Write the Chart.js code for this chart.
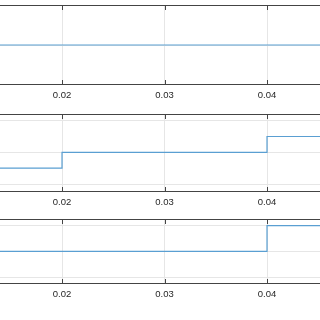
<!DOCTYPE html>
<html>
<head>
<meta charset="utf-8">
<script src="https://cdn.jsdelivr.net/npm/chart.js@4.4.0/dist/chart.umd.min.js"></script>
<style>
  html, body { margin: 0; padding: 0; background: #fff; }
  body { width: 320px; height: 320px; position: relative; overflow: hidden; }
  .panel { position: absolute; left: 0; width: 320px; }
</style>
</head>
<body>
<div class="panel" id="p1" style="top:5px;height:100px"><canvas id="c1"></canvas></div>
<div class="panel" id="p2" style="top:114px;height:98px"><canvas id="c2"></canvas></div>
<div class="panel" id="p3" style="top:219px;height:85px"><canvas id="c3"></canvas></div>
<script>
// tiempos de los cambios (s) y niveles de cada señal
const xTicks = [0.02, 0.03, 0.04];
const xMin = 0.01395;
const xMax = 0.04517;

const tiempos1 = [0.01, 0.05];
const valores1 = [1, 1];
const yTicks1 = [1];

const tiempos2 = [0.01, 0.02, 0.04, 0.05];
const valores2 = [1.5, 2, 2.5, 2.5];
const yTicks2 = [1, 2, 3];

const tiempos3 = [0.01, 0.04, 0.05];
const valores3 = [1, 2, 2];
const yTicks3 = [0, 1, 2];

const colorLinea = "#5a9fd2";
const colorGrid = "#e6e6e6";
const colorEje = "#444444";

// marco tipo matlab con marcas hacia dentro
const marco = {
  id: "marco",
  afterDatasetsDraw(chart) {
    const { ctx, chartArea: a, scales } = chart;
    ctx.save();
    ctx.strokeStyle = colorEje;
    ctx.lineWidth = 1;
    ctx.beginPath();
    ctx.moveTo(a.left, a.top + 0.5);
    ctx.lineTo(a.right, a.top + 0.5);
    ctx.moveTo(a.left, a.bottom - 0.5);
    ctx.lineTo(a.right, a.bottom - 0.5);
    scales.x.ticks.forEach((t) => {
      const px = Math.round(scales.x.getPixelForValue(t.value)) + 0.5;
      ctx.moveTo(px, a.top);
      ctx.lineTo(px, a.top + 5);
      ctx.moveTo(px, a.bottom);
      ctx.lineTo(px, a.bottom - 5);
    });
    ctx.stroke();
    ctx.restore();
  },
};

function crearPanel(id, tiempos, valores, yTicks, yMin, yMax) {
  const puntos = tiempos.map((t, i) => ({ x: t, y: valores[i] }));
  return new Chart(document.getElementById(id), {
    type: "line",
    data: {
      datasets: [
        {
          data: puntos,
          stepped: "before",
          borderColor: colorLinea,
          borderWidth: 1.2,
          pointRadius: 0,
          fill: false,
        },
      ],
    },
    options: {
      responsive: true,
      maintainAspectRatio: false,
      animation: false,
      layout: { padding: 0 },
      plugins: { legend: { display: false }, tooltip: { enabled: false } },
      scales: {
        x: {
          type: "linear",
          min: xMin,
          max: xMax,
          afterBuildTicks: (s) => {
            s.ticks = xTicks.map((v) => ({ value: v }));
          },
          afterFit: (s) => {
            s.height = 20;
          },
          grid: { color: colorGrid, drawTicks: false },
          border: { display: false },
          ticks: {
            padding: 5,
            color: "#262626",
            font: { family: "Liberation Sans, Arial, sans-serif", size: 9.5 },
            callback: (v) => v.toFixed(2),
          },
        },
        y: {
          min: yMin,
          max: yMax,
          afterBuildTicks: (s) => {
            s.ticks = yTicks.map((v) => ({ value: v }));
          },
          afterFit: (s) => {
            s.width = 0;
          },
          grid: { color: colorGrid, drawTicks: false },
          border: { display: false },
          ticks: { display: false },
        },
      },
    },
    plugins: [marco],
  });
}

crearPanel("c1", tiempos1, valores1, yTicks1, 0.5, 1.5);
crearPanel("c2", tiempos2, valores2, yTicks2, 0.75, 3.21);
crearPanel("c3", tiempos3, valores3, yTicks3, -0.27, 2.26);
</script>
</body>
</html>
